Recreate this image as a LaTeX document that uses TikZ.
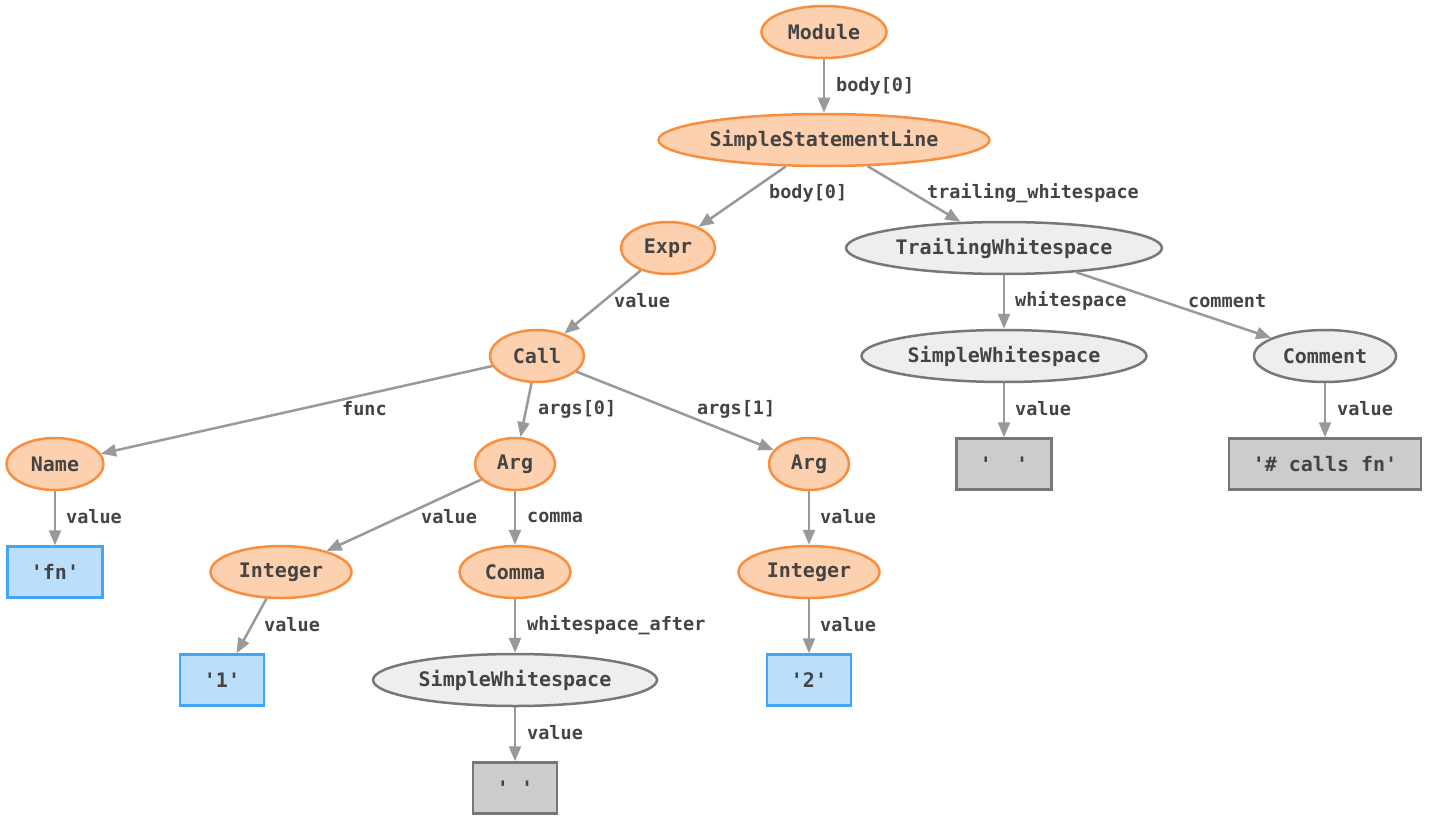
\documentclass[tikz,border=0pt]{standalone}
\usepackage{fontspec}
\setmonofont{DejaVu Sans Mono}
\usetikzlibrary{shapes.geometric,arrows.meta}
\definecolor{astfill}{HTML}{FDD1AF}
\definecolor{astline}{HTML}{F98E3E}
\definecolor{wsfill}{HTML}{EEEEEE}
\definecolor{wsline}{HTML}{777777}
\definecolor{tokfill}{HTML}{CCCCCC}
\definecolor{leaffill}{HTML}{BBDEFB}
\definecolor{leafline}{HTML}{42A5F5}
\definecolor{edgecol}{HTML}{999999}
\definecolor{txt}{HTML}{444444}
\begin{document}
\begin{tikzpicture}[x=1pt,y=-1pt,
	every node/.style={font=\ttfamily\bfseries\fontsize{20}{21}\selectfont,text=txt},
	ast/.style={ellipse,draw=astline,fill=astfill,line width=2.5pt,inner sep=0pt,minimum height=52pt},
	ws/.style={ellipse,draw=wsline,fill=wsfill,line width=2.5pt,inner sep=0pt,minimum height=52pt},
	tok/.style={rectangle,draw=wsline,fill=tokfill,line width=2.5pt,inner sep=0pt,minimum height=51pt},
	leaf/.style={rectangle,draw=leafline,fill=leaffill,line width=2.5pt,inner sep=0pt,minimum height=51pt},
	edge/.style={draw=edgecol,line width=2.5pt,-{Triangle[length=15pt,width=12pt]}},
	lbl/.style={anchor=west,inner sep=0pt,font=\ttfamily\bfseries\fontsize{18.5}{19}\selectfont}]
	\useasboundingbox (0,0) rectangle (1429,821);
	\node[ast,minimum width=125pt] (mod) at (824,32) {Module};
	\node[ast,minimum width=331pt] (ssl) at (824,140) {SimpleStatementLine};
	\node[ast,minimum width=94pt] (expr) at (668,248) {Expr};
	\node[ws,minimum width=316pt] (tws) at (1004,248) {TrailingWhitespace};
	\node[ast,minimum width=94pt] (call) at (537,356) {Call};
	\node[ws,minimum width=285pt] (sws) at (1004,356) {SimpleWhitespace};
	\node[ws,minimum width=142pt] (cmt) at (1325,356) {Comment};
	\node[ast,minimum width=97pt] (name) at (55,464) {Name};
	\node[ast,minimum width=80pt] (arga) at (515,464) {Arg};
	\node[ast,minimum width=80pt] (argb) at (809,464) {Arg};
	\node[tok,minimum width=95pt] (swsv) at (1004,464) {'\ \ '};
	\node[tok,minimum width=192pt] (cmtv) at (1325,464) {'\#\ calls\ fn'};
	\node[leaf,minimum width=95pt] (namev) at (55,572) {'fn'};
	\node[ast,minimum width=141pt] (inta) at (281,572) {Integer};
	\node[ast,minimum width=111pt] (comma) at (515,572) {Comma};
	\node[ast,minimum width=141pt] (intb) at (809,572) {Integer};
	\node[leaf,minimum width=84pt] (intav) at (222,680) {'1'};
	\node[ws,minimum width=284pt] (swc) at (515,680) {SimpleWhitespace};
	\node[leaf,minimum width=84pt] (intbv) at (809,680) {'2'};
	\node[tok,minimum width=84pt] (swcv) at (515,788) {'\ '};
	\foreach \a/\b/\t/\x/\y in {mod/ssl/body[0]/836/86, ssl/expr/body[0]/769/193,
		ssl/tws/trailing\_whitespace/927/193, expr/call/value/614/301,
		tws/sws/whitespace/1015/301, tws/cmt/comment/1188/301,
		call/name/func/342/409, call/arga/args[0]/538/409, call/argb/args[1]/697/409,
		sws/swsv/value/1015/409, cmt/cmtv/value/1337/409, name/namev/value/66/517,
		arga/inta/value/421/517, arga/comma/comma/527/517, argb/intb/value/820/517,
		inta/intav/value/264/625, comma/swc/whitespace\_after/527/625,
		intb/intbv/value/820/625, swc/swcv/value/527/733}
		{\draw[edge] (\a) -- (\b);
		\node[lbl] (l-\b) at (\x,\y) {\t};}
\end{tikzpicture}
\end{document}
